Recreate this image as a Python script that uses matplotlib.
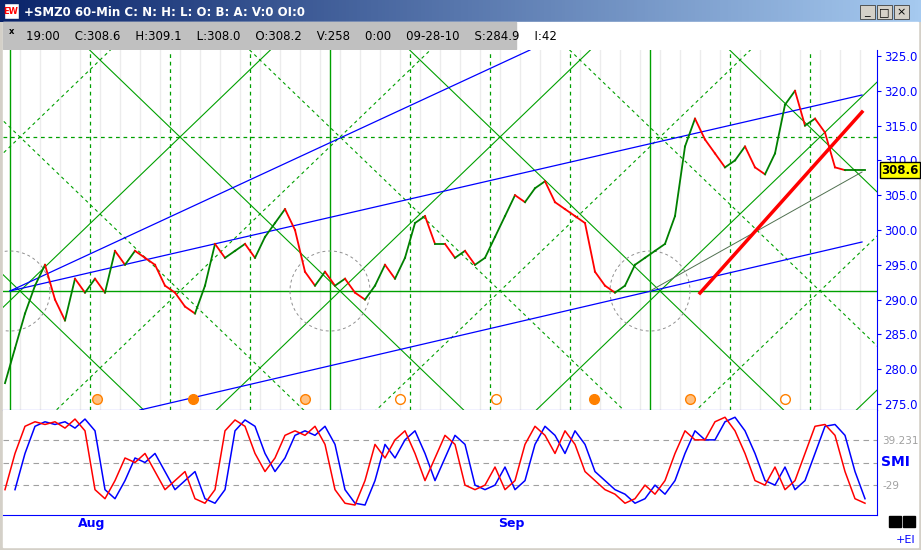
import numpy as np
import matplotlib
matplotlib.use('Agg')
import matplotlib.pyplot as plt
from matplotlib.patches import Rectangle

W, H = 921, 550

# hourly closes sampled every 10 px along the chart
bar_x = list(range(5, 875, 10))[:87]
closes = [278, 283, 288, 292, 295, 290, 287, 293, 291, 293, 291, 297, 295, 297, 296, 295,
          292, 291, 289, 288, 292, 298, 296, 297, 298, 296, 299, 301, 303, 300, 294, 292,
          294, 292, 293, 291, 290, 292, 295, 293, 296, 301, 302, 298, 298, 296, 297, 295,
          296, 299, 302, 305, 304, 306, 307, 304, 303, 302, 301, 294, 292, 291, 292, 295,
          296, 297, 298, 302, 312, 316, 313, 311, 309, 310, 312, 309, 308, 311, 318, 320,
          315, 316, 314, 309, 308.6, 308.6, 308.6]
smi = [20, 60, 90, 95, 92, 95, 88, 98, 85, 20, 10, 30, 55, 50, 60, 40, 20, 30, 40, 10, 5,
       20, 85, 97, 90, 60, 40, 55, 80, 85, 80, 90, 70, 20, 5, 3, 30, 70, 55, 75, 85, 60, 30,
       55, 80, 70, 25, 20, 25, 45, 20, 30, 70, 90, 80, 60, 85, 70, 40, 30, 20, 15, 5, 10, 25,
       15, 30, 60, 85, 75, 75, 95, 100, 85, 60, 30, 25, 45, 20, 30, 60, 90, 92, 80, 40, 10, 5]
price_ticks = [275.0, 280.0, 285.0, 290.0, 295.0, 300.0, 305.0, 310.0, 315.0, 320.0, 325.0]
month_labels = ['Aug', 'Sep']
month_x = [78, 498]
cycle_x = [97, 193, 305, 400, 496, 594, 690, 785]
cycle_fill = ['half', 'full', 'half', 'none', 'none', 'full', 'half', 'none']

def px2p(y):
    return 325 - (y - 56) / 6.96

fig = plt.figure(figsize=(W / 100, H / 100), dpi=100)
bg = fig.add_axes([0, 0, 1, 1])
bg.set_xlim(0, W); bg.set_ylim(H, 0); bg.axis('off')
bg.add_patch(Rectangle((0, 0), W, H, color='#d4d0c8', zorder=0))
grad = np.linspace(0, 1, 256).reshape(1, -1)
bg.imshow(grad, extent=(0, W, 22, 0), aspect='auto', zorder=1,
          cmap=matplotlib.colors.LinearSegmentedColormap.from_list('tb', ['#0a246a', '#a6caf0']))
bg.set_xlim(0, W); bg.set_ylim(H, 0)
bg.add_patch(Rectangle((3, 22), W - 6, H - 25, color='white', zorder=1))
bg.add_patch(Rectangle((3, 22), 513, 27, color='#c0c0c0', zorder=1))
bg.text(24, 12, '+SMZ0 60-Min C: N: H: L: O: B: A: V:0 OI:0', color='white',
        fontsize=8.5, fontweight='bold', va='center', zorder=3)
bg.add_patch(Rectangle((4, 3), 15, 16, color='white', ec='#0a246a', zorder=3))
bg.text(11, 11, 'EW', color='red', fontsize=6, fontweight='bold', ha='center', va='center', zorder=4)
for i, lab in enumerate(['_', '□', '×']):
    bg.add_patch(Rectangle((860 + i * 17, 5), 15, 14, color='#d4d0c8', ec='#404040', lw=0.6, zorder=3))
    bg.text(867 + i * 17, 12, lab, fontsize=8, ha='center', va='center', zorder=4)
bg.text(26, 36, '19:00    C:308.6    H:309.1    L:308.0    O:308.2    V:258    0:00    09-28-10    S:284.9    I:42',
        fontsize=8.5, va='center', zorder=3)
bg.text(12, 32, 'x', fontsize=6, ha='center', va='center', fontweight='bold', zorder=3)

# main price panel
ax = fig.add_axes([3 / W, 1 - 410 / H, 874 / W, 360 / H])
ax.set_xlim(3, 877)
ax.set_ylim(px2p(410), px2p(50))
for s in ax.spines.values():
    s.set_visible(False)
ax.spines['right'].set_visible(True); ax.spines['right'].set_color('blue')
ax.spines['bottom'].set_visible(True); ax.spines['bottom'].set_color('blue')
ax.yaxis.tick_right()
ax.set_yticks(price_ticks)
ax.set_yticklabels([f'{t:.1f}' for t in price_ticks], color='blue', fontsize=8.5)
ax.tick_params(axis='y', colors='blue', length=3, pad=2)
ax.set_xticks([])
for xv in range(20, 877, 20):
    ax.axvline(xv, color='#ececec', lw=1, zorder=0)

# gann grid
for xv in [10, 330, 650]:
    ax.axvline(xv, color='#00a000', lw=1)
for xv in [90, 170, 250, 410, 490, 570, 730, 810]:
    ax.axvline(xv, color='#00a000', lw=0.9, ls=(0, (3, 3)))
ax.axhline(px2p(291), color='#00a000', lw=1)
ax.axhline(px2p(137), color='#00a000', lw=0.9, ls=(0, (3, 3)))
xs = np.array([-400, 1300])
slope = 154 / 160
for x0 in range(-630, 1300, 320):
    for sg in (1, -1):
        ax.plot(xs, px2p(291 + sg * slope * (xs - x0 - 10)), color='#00a000', lw=0.8)
        ax.plot(xs, px2p(291 + sg * slope * (xs - x0 - 170)), color='#00a000', lw=0.8,
                ls=(0, (3, 3)))
for cx in [10, 330, 650]:
    t = np.linspace(0, 2 * np.pi, 100)
    ax.plot(cx + 40 * np.cos(t), px2p(291 + 40 * np.sin(t)), color='#909090', lw=0.7,
            ls=(0, (3, 3)))

# trend lines
ax.plot([10, 530], [px2p(291), px2p(50)], color='blue', lw=0.9)
ax.plot([10, 862], [px2p(291), px2p(95)], color='blue', lw=0.9)
ax.plot([140, 862], [px2p(410), px2p(242)], color='blue', lw=0.9)
ax.plot([650, 862], [px2p(291), px2p(172)], color='#507050', lw=0.7)
ax.plot([700, 862], [px2p(293), px2p(112)], color='red', lw=2.5)

# price path
for i in range(len(bar_x) - 1):
    c = '#008000' if closes[i + 1] >= closes[i] else 'red'
    ax.plot(bar_x[i:i + 2], closes[i:i + 2], color=c, lw=1.3)
ax.annotate('308.6', xy=(1.005, 308.6), xycoords=('axes fraction', 'data'), fontsize=8.5,
            fontweight='bold', va='center', bbox=dict(fc='yellow', ec='black', pad=1))

for xv, f in zip(cycle_x, cycle_fill):
    fc = {'full': '#ff8000', 'half': '#ffc080', 'none': 'white'}[f]
    ax.plot(xv, px2p(399), 'o', ms=7, mfc=fc, mec='#ff8000', mew=1)

# SMI panel
ax2 = fig.add_axes([3 / W, 1 - 515 / H, 874 / W, 105 / H])
ax2.set_xlim(3, 877)
ax2.set_ylim(-8, 108)
for s in ax2.spines.values():
    s.set_visible(False)
ax2.spines['right'].set_visible(True); ax2.spines['right'].set_color('blue')
ax2.spines['bottom'].set_visible(True); ax2.spines['bottom'].set_color('blue')
ax2.set_xticks([])
ax2.yaxis.tick_right()
ax2.set_yticks([75, 25])
ax2.set_yticklabels(['39.231', '-29'], color='#a0a0a0', fontsize=7.5)
ax2.tick_params(axis='y', length=0, pad=4)
for yv in [75, 50, 25]:
    ax2.axhline(yv, color='#a0a0a0', lw=0.8, ls=(0, (5, 4)))
ax2.plot(bar_x[1:], smi[:-1], color='blue', lw=1.1)
ax2.plot(bar_x, smi, color='red', lw=1.1)
ax2.text(1.005, 0.5, 'SMI', transform=ax2.transAxes, color='blue', fontsize=10,
         fontweight='bold', va='center')

for lab, xv in zip(month_labels, month_x):
    bg.text(xv, 523, lab, color='blue', fontsize=9, fontweight='bold', va='center', zorder=3)
bg.add_patch(Rectangle((889, 516), 12, 11, color='black', zorder=3))
bg.add_patch(Rectangle((903, 516), 12, 11, color='black', zorder=3))
bg.text(915, 540, '+EI', color='blue', fontsize=8, ha='right', va='center', zorder=3)

fig.savefig('out.png', dpi=100)
